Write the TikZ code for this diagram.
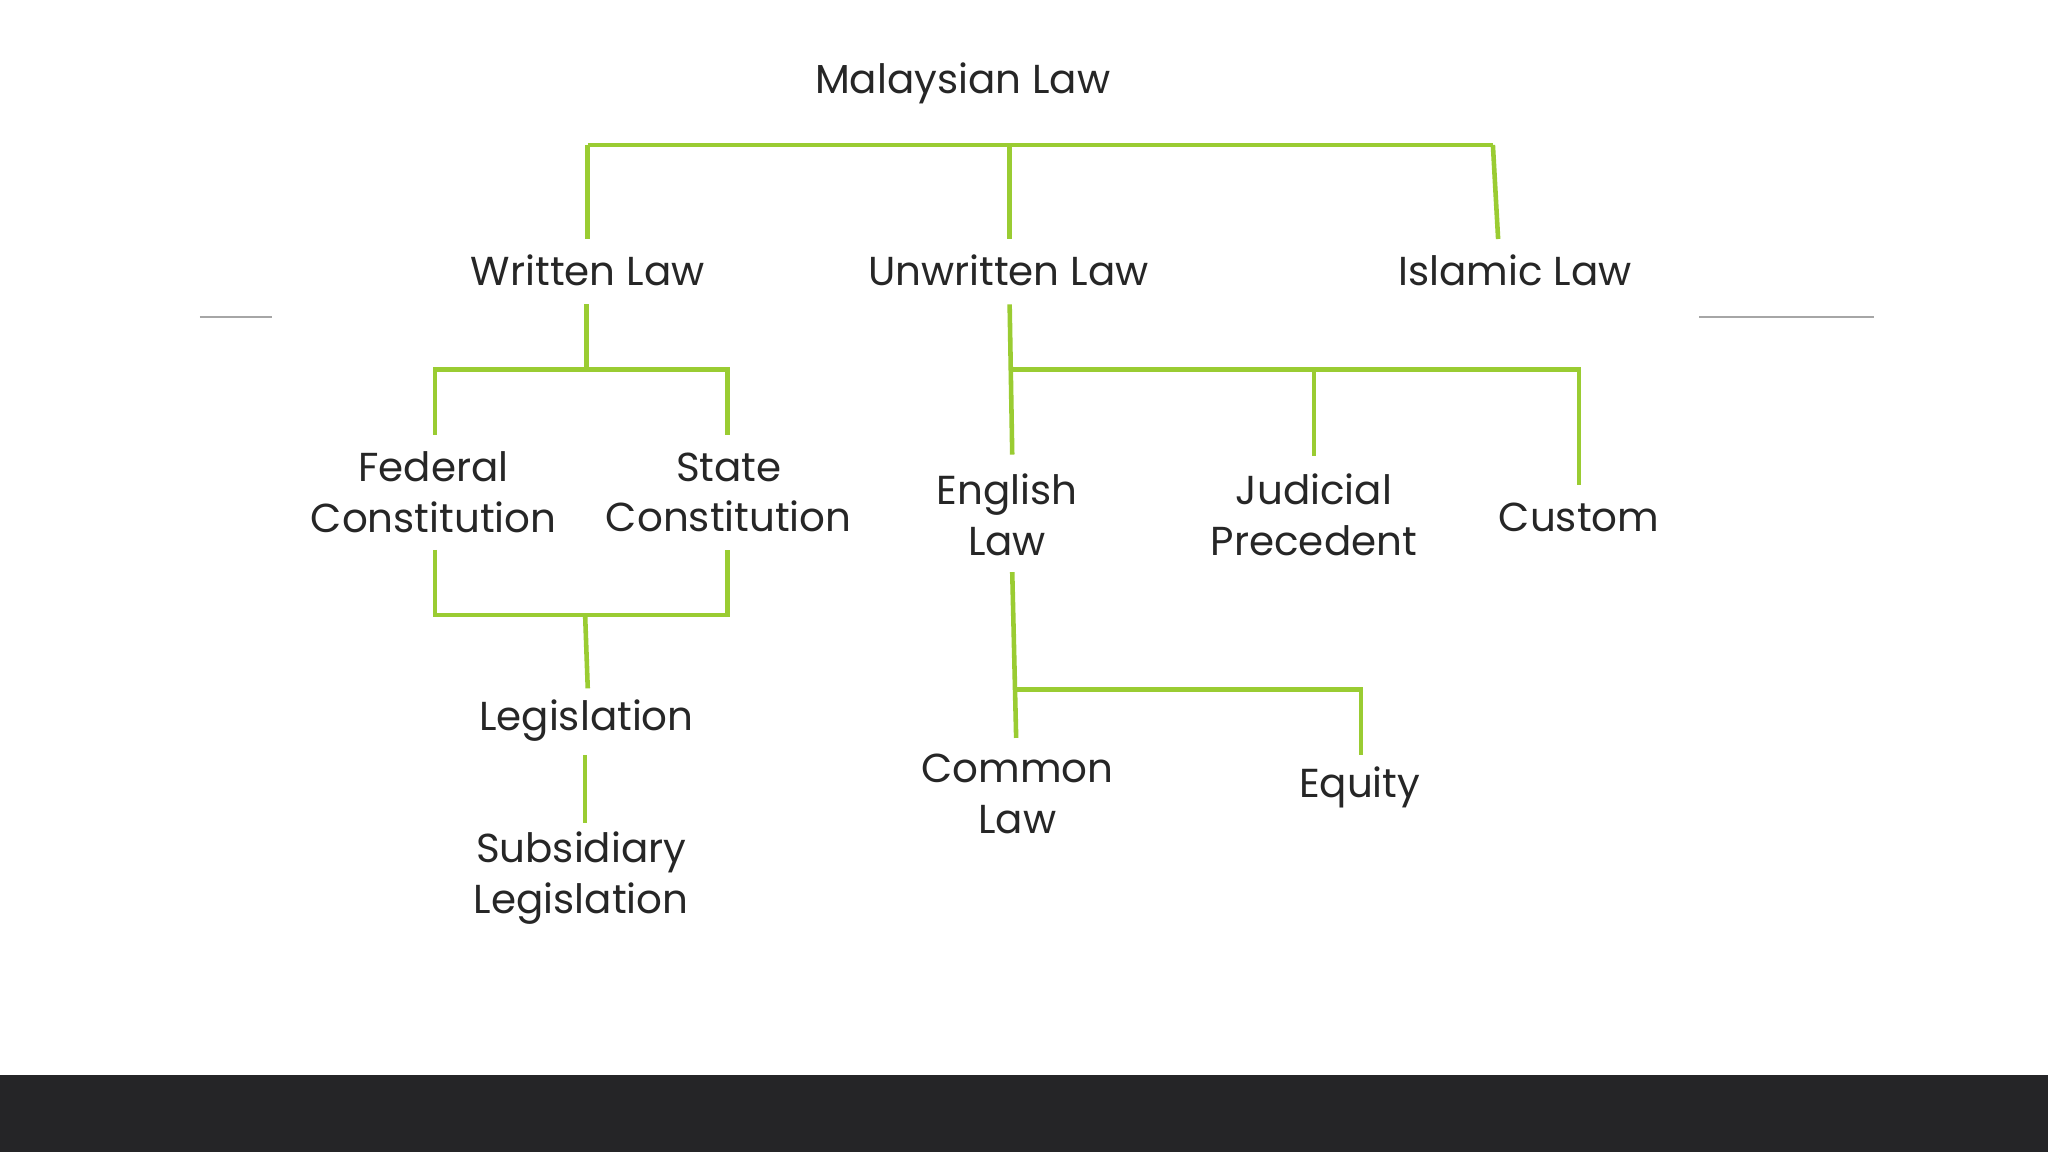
\documentclass[tikz,border=0pt]{standalone}
\usepackage{fontspec}
\setmainfont{Poppins}
\definecolor{lgreen}{RGB}{154,204,50}
\definecolor{barc}{RGB}{37,37,39}
\tikzset{lbl/.style={align=center,font=\fontsize{11.5}{14.5}\selectfont,text=black!85,inner sep=0pt},
 conn/.style={draw=lgreen,line width=1.3pt}}
\begin{document}
\begin{tikzpicture}[x=0.013061cm,y=-0.013061cm]
\useasboundingbox (0,0) rectangle (1568,882);
\fill[white] (0,0) rectangle (1568,882);
\fill[barc] (0,823) rectangle (1568,882);
\draw[gray!70,line width=0.6pt] (153,243) -- (208,243);
\draw[gray!70,line width=0.6pt] (1301,243) -- (1435,243);
\node[lbl] (ml) at (737,64) {Malaysian Law};
\node[lbl] (wl) at (450,207) {Written Law};
\node[lbl] (ul) at (772,207) {Unwritten Law};
\node[lbl] (il) at (1160,207) {Islamic Law};
\node[lbl] (fc) at (332,377) {Federal\\Constitution};
\node[lbl] (sc) at (558,377) {State\\Constitution};
\node[lbl] (lg) at (449,552) {Legislation};
\node[lbl] (sl) at (445,672) {Subsidiary\\Legislation};
\node[lbl] (el) at (771,394) {English\\Law};
\node[lbl] (jp) at (1006,394) {Judicial\\Precedent};
\node[lbl] (cu) at (1209,396) {Custom};
\node[lbl] (cl) at (779,608) {Common\\Law};
\node[lbl] (eq) at (1041,603) {Equity};
\coordinate (a1) at (450,111); \coordinate (a2) at (773,111); \coordinate (a3) at (1143,111);
\draw[conn] (a1) -- (a3);
\draw[conn] (a1) -- (450,183);
\draw[conn] (a2) -- (773,183);
\draw[conn] (a3) -- (1147,183);
\coordinate (b) at (449,283);
\draw[conn] (449,233) -- (b);
\draw[conn] (333,333) -- (333,283) -- (557,283) -- (557,333);
\draw[conn] (333,421) -- (333,471) -- (557,471) -- (557,421);
\draw[conn] (448,471) -- (450,527);
\draw[conn] (448,578) -- (448,630);
\draw[conn] (773,233) -- (775,348);
\draw[conn] (774,283) -- (1209,283) -- (1209,371);
\draw[conn] (1006,283) -- (1006,349);
\draw[conn] (775,438) -- (778,565);
\draw[conn] (777,528) -- (1042,528) -- (1042,578);
\end{tikzpicture}
\end{document}
